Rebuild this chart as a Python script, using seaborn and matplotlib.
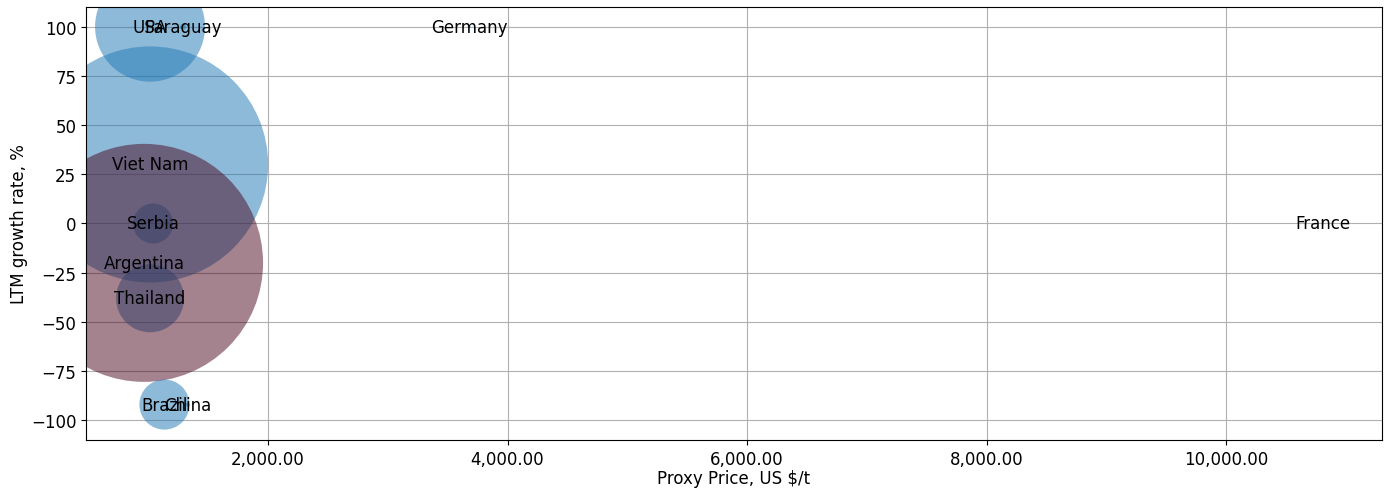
import seaborn as sns
import matplotlib.pyplot as plt
import matplotlib.ticker as ticker
import pandas as pd

countries = ["USA", "Paraguay", "Germany", "Viet Nam", "Serbia",
             "Thailand", "Argentina", "Brazil", "China", "France"]
proxy_price = [1015, 1290, 3680, 1015, 1040, 1015, 965, 1135, 1330, 10810]
growth_rate = [100, 100, 100, 30, 0, -38, -20, -92, -92, 0]
volume = [627, 2, 0.5, 2890, 83, 240, 2937, 130, 1, 0.3]
group = ["other", "other", "other", "other", "other",
         "other", "Argentina", "other", "other", "other"]

df = pd.DataFrame({
    "Country": countries,
    "Price": proxy_price,
    "Growth": growth_rate,
    "Volume": volume,
    "Group": group,
})

sns.set_style("ticks")
plt.rcParams["font.family"] = ["DejaVu Sans"]
plt.rcParams["font.size"] = 12
for k in ["text.color", "axes.labelcolor", "xtick.color", "ytick.color"]:
    plt.rcParams[k] = "black"

fig, ax = plt.subplots(figsize=(13.89, 4.89), dpi=100)

sns.scatterplot(data=df, x="Price", y="Growth", size="Volume", hue="Group",
                sizes=(0, 29370), size_norm=(0, max(volume)),
                palette={"other": "#1f77b4", "Argentina": "#4a0820"},
                alpha=0.5, linewidth=0, legend=False, ax=ax)

for _, row in df.iterrows():
    ax.text(row["Price"], row["Growth"], row["Country"],
            ha="center", va="center", fontsize=12, color="black")

ax.set_xlim(480, 11303)
ax.set_ylim(-110, 110)
ax.xaxis.set_major_formatter(ticker.FuncFormatter(lambda v, p: f"{v:,.2f}"))
ax.set_xticks([2000, 4000, 6000, 8000, 10000])
ax.set_yticks([-100, -75, -50, -25, 0, 25, 50, 75, 100])
ax.grid(True, color="#b0b0b0", linewidth=0.8)
ax.set_axisbelow(True)
ax.tick_params(labelsize=12, colors="black")
ax.set_xlabel("Proxy Price, US $/t", fontsize=12, labelpad=1)
ax.set_ylabel("LTM growth rate, %", fontsize=12, labelpad=2)
for sp in ax.spines.values():
    sp.set_color("black")

fig.subplots_adjust(left=0.0619, right=0.995, top=0.9836, bottom=0.0982)
fig.savefig("out.png", dpi=100)
